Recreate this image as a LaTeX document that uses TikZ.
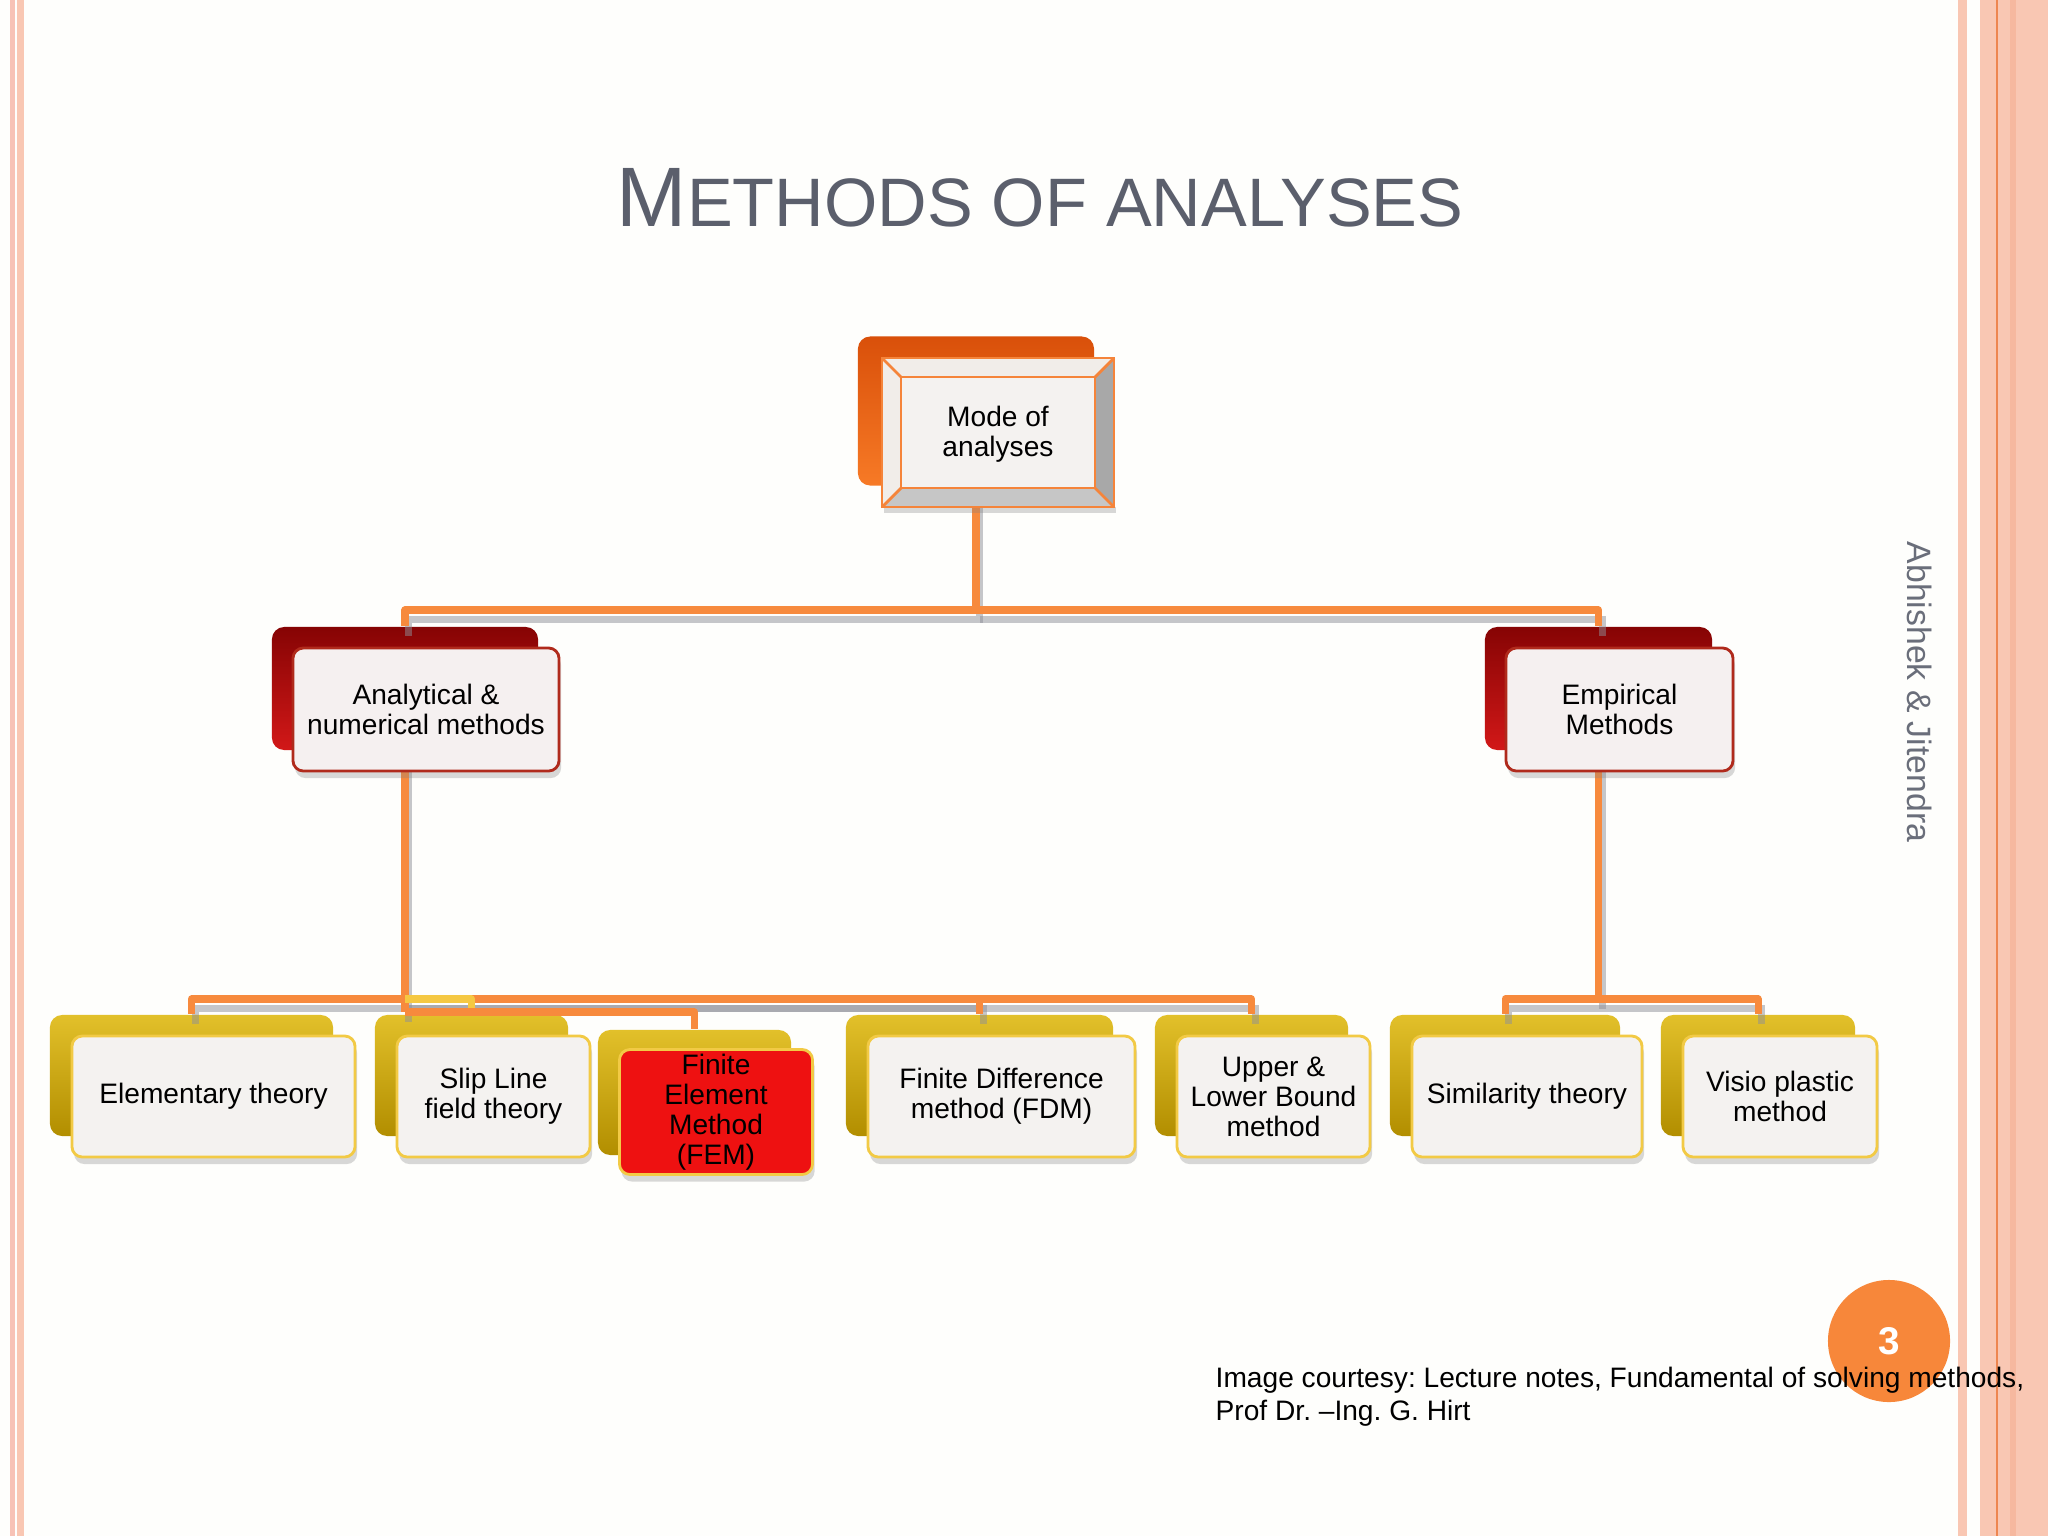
\documentclass[tikz,border=0pt]{standalone}
\usepackage{fontspec}
\setmainfont{Liberation Sans}
\usetikzlibrary{shadows,calc}
\frenchspacing
\definecolor{pagebg}{HTML}{FEFEFC}
\definecolor{stripeA}{HTML}{F7C2B6}
\definecolor{stripeB}{HTML}{F9C7B3}
\definecolor{stripeC}{HTML}{F6B89F}
\definecolor{stripeLine}{HTML}{EE8650}
\definecolor{titleC}{HTML}{5B5F6C}
\definecolor{sideC}{HTML}{6A6E7A}
\definecolor{connC}{HTML}{F78A3D}
\definecolor{yconnC}{HTML}{F5C842}
\definecolor{shC}{HTML}{8E9098}
\definecolor{goldT}{HTML}{E2C02A}
\definecolor{goldB}{HTML}{B28E00}
\definecolor{goldLine}{HTML}{F2CA45}
\definecolor{redT}{HTML}{860404}
\definecolor{redB}{HTML}{D21818}
\definecolor{redLine}{HTML}{B02A1C}
\definecolor{orT}{HTML}{D9500A}
\definecolor{orB}{HTML}{F77A26}
\definecolor{orLine}{HTML}{F5843A}
\definecolor{frontC}{HTML}{F4F2F0}
\definecolor{frontR}{HTML}{F5F0F0}
\definecolor{femC}{HTML}{EE1111}
\definecolor{bevL}{HTML}{F1EDE9}
\definecolor{bevR}{HTML}{A8A8A8}
\definecolor{bevB}{HTML}{C6C6C6}
\definecolor{pageC}{HTML}{F7873A}
\newcommand\myboxfont{\fontsize{8}{8.5}\selectfont}
\tikzset{
  conn/.style={draw=connC, line width=2pt, line join=round},
  yconn/.style={draw=yconnC, line width=2pt, line join=round},
  connsh/.style={draw=shC, line width=2pt, opacity=0.5, transform canvas={xshift=1pt,yshift=-2.8pt}},
  backbox/.style={rounded corners=3.5pt, inner sep=0pt, draw=none},
  goldback/.style={backbox, top color=goldT, bottom color=goldB},
  redback/.style={backbox, top color=redT, bottom color=redB},
  orback/.style={backbox, top color=orT, bottom color=orB},
  frontbox/.style={rounded corners=3pt, inner sep=1pt, align=center, font=\myboxfont, text=black,
     drop shadow={shadow xshift=0.6pt, shadow yshift=-2pt, opacity=0.3, fill=gray}},
  goldfront/.style={frontbox, fill=frontC, draw=goldLine, line width=0.8pt},
  redfront/.style={frontbox, fill=frontR, draw=redLine, line width=0.8pt},
  femfront/.style={frontbox, fill=femC, draw=goldLine, line width=0.8pt},
  bevelline/.style={draw=orLine, line width=0.8pt}
}
\begin{document}
\begin{tikzpicture}[x=0.01cm,y=-0.01cm]
\useasboundingbox (0,0) rectangle (2048,1536);
\fill[pagebg] (0,0) rectangle (2048,1536);
% page borders
\fill[stripeA] (10,0) rectangle (15,1536);
\fill[stripeB] (17,0) rectangle (24,1536);
\fill[stripeB] (1958,0) rectangle (1967,1536);
\fill[stripeB] (1980,0) rectangle (2048,1536);
\fill[stripeC] (2010,0) rectangle (2016,1536);
\fill[stripeLine] (1996,0) rectangle (1998,1536);

% title
\node[anchor=base, text=titleC, inner sep=0pt] (title) at (1040,226)
  {\fontsize{24}{28}\selectfont M\fontsize{19.5}{24}\selectfont ETHODS OF ANALYSES};

% back boxes
\node[orback, minimum width=2.36cm, minimum height=1.49cm] (topB) at (976,411) {};
\node[redback, minimum width=2.66cm, minimum height=1.23cm] (anaB) at (405,688.5) {};
\node[redback, minimum width=2.27cm, minimum height=1.23cm] (empB) at (1598.5,688.5) {};
\node[goldback, minimum width=2.83cm, minimum height=1.21cm] (eleB) at (191.5,1075.5) {};
\node[goldback, minimum width=1.93cm, minimum height=1.21cm] (slipB) at (471.5,1075.5) {};
\node[goldback, minimum width=1.93cm, minimum height=1.25cm] (femB) at (694.5,1092.5) {};
\node[goldback, minimum width=2.67cm, minimum height=1.21cm] (fdmB) at (979.5,1075.5) {};
\node[goldback, minimum width=1.93cm, minimum height=1.21cm] (ublB) at (1251.5,1075.5) {};
\node[goldback, minimum width=2.30cm, minimum height=1.21cm] (simB) at (1505,1075.5) {};
\node[goldback, minimum width=1.94cm, minimum height=1.21cm] (visB) at (1758,1075.5) {};

% junctions
\coordinate (j1) at (976,610);
\coordinate (j2) at (405,999);
\coordinate (j3) at (405,1012);
\coordinate (j4) at (1598.5,999);

% connector shadows
\draw[connsh] (topB.south) -- (j1) -| (anaB.north);
\draw[connsh] (j1) -| (empB.north);
\draw[connsh] (anaB.south) -- (j3);
\draw[connsh] (j2) -| (eleB.north);
\draw[connsh] (j2) -| (fdmB.north);
\draw[connsh] (j2) -| (ublB.north);
\draw[connsh] (empB.south) -- (j4);
\draw[connsh] (j4) -| (simB.north);
\draw[connsh] (j4) -| (visB.north);

% connectors
\draw[conn] (topB.south) -- (j1) -| (anaB.north);
\draw[conn] (j1) -| (empB.north);
\draw[conn] (anaB.south) -- (j3);
\draw[conn] (j2) -| (eleB.north);
\draw[conn] (j2) -| (fdmB.north);
\draw[conn] (j2) -| (ublB.north);
\draw[yconn] (j2) -| (slipB.north);
\draw[conn] (j3) -| (femB.north);
\draw[conn] (empB.south) -- (j4);
\draw[conn] (j4) -| (simB.north);
\draw[conn] (j4) -| (visB.north);

% top beveled box
\fill[gray, opacity=0.3] (884,507) rectangle (1116,513);
\fill[bevL] (882,358) -- (1114,358) -- (1095,377) -- (901,377) -- cycle;
\fill[bevL] (882,358) -- (901,377) -- (901,488) -- (882,507) -- cycle;
\fill[bevR] (1114,358) -- (1095,377) -- (1095,488) -- (1114,507) -- cycle;
\fill[bevB] (882,507) -- (1114,507) -- (1095,488) -- (901,488) -- cycle;
\fill[frontC] (901,377) rectangle (1095,488);
\draw[bevelline] (882,358) rectangle (1114,507);
\draw[bevelline] (901,377) rectangle (1095,488);
\draw[bevelline] (882,358) -- (901,377);
\draw[bevelline] (1114,358) -- (1095,377);
\draw[bevelline] (882,507) -- (901,488);
\draw[bevelline] (1114,507) -- (1095,488);
\node[align=center, font=\myboxfont, inner sep=0pt] (topF) at (998,434) {Mode of\\analyses};

% front boxes
\node[redfront, minimum width=2.66cm, minimum height=1.23cm] (anaF) at (426,709.5) {Analytical \&\\numerical methods};
\node[redfront, minimum width=2.27cm, minimum height=1.23cm] (empF) at (1619.5,709.5) {Empirical\\Methods};
\node[goldfront, minimum width=2.83cm, minimum height=1.21cm] (eleF) at (213.5,1096.5) {Elementary theory};
\node[goldfront, minimum width=1.93cm, minimum height=1.21cm] (slipF) at (493.5,1096.5) {Slip Line\\field theory};
\node[femfront, minimum width=1.93cm, minimum height=1.25cm] (femF) at (716,1112) {Finite\\Element\\Method\\(FEM)};
\node[goldfront, minimum width=2.67cm, minimum height=1.21cm] (fdmF) at (1001.5,1096.5) {Finite Difference\\method (FDM)};
\node[goldfront, minimum width=1.93cm, minimum height=1.21cm] (ublF) at (1273.5,1096.5) {Upper \&\\Lower Bound\\method};
\node[goldfront, minimum width=2.30cm, minimum height=1.21cm] (simF) at (1527,1096.5) {Similarity theory};
\node[goldfront, minimum width=1.94cm, minimum height=1.21cm] (visF) at (1780,1096.5) {Visio plastic\\method};

% side text
\node[rotate=-90, text=sideC, inner sep=0pt] (side) at (1920,692) {\fontsize{9.6}{11}\selectfont Abhishek \& Jitendra};

% page number
\node[circle, fill=pageC, minimum size=1.22cm, inner sep=0pt, text=white] (pg) at (1889,1341) {\fontsize{11}{13}\selectfont\bfseries 3};

% caption
\node[anchor=north west, align=left, inner sep=0pt, font=\fontsize{8}{9.6}\selectfont] (cap) at (1215,1366)
  {Image courtesy: Lecture notes, Fundamental of solving methods,\\Prof Dr. --Ing. G. Hirt};
\end{tikzpicture}
\end{document}
